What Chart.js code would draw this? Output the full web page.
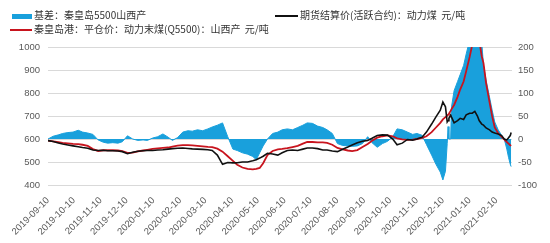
<!DOCTYPE html>
<html lang="zh">
<head>
    <meta charset="UTF-8">
    <title>基差 秦皇岛5500山西产</title>
    <script src="https://cdn.jsdelivr.net/npm/chart.js"></script>
    <style>
        * {
            padding: 0;
            margin: 0;
        }
        body {
            background: #ffffff;
            width: 550px;
            height: 243px;
            overflow: hidden;
            font-family: 'Noto Sans CJK SC', sans-serif;
        }
        .wrap {
            position: relative;
            width: 550px;
            height: 243px;
        }
        .legend-item {
            position: absolute;
            font-size: 10px;
            color: #333;
            white-space: nowrap;
            line-height: 12px;
        }
        .legend-item i {
            display: inline-block;
            vertical-align: middle;
            margin-right: 2px;
        }
    </style>
</head>
<body>
<div class="wrap">
    <canvas id="myChart" width="550" height="243"></canvas>
    <div class="legend-item" style="left:12px; top:9px;"><i style="width:20px;height:5px;background:#19a0dc;"></i>基差：秦皇岛5500山西产</div>
    <div class="legend-item" style="left:275px; top:9px;"><i style="width:23px;height:2px;background:#111;"></i>期货结算价(活跃合约)：动力煤&nbsp;&nbsp;元/吨</div>
    <div class="legend-item" style="left:10px; top:23px;"><i style="width:22px;height:2px;background:#c8141e;"></i>秦皇岛港：平仓价：动力末煤(Q5500)：山西产&nbsp;&nbsp;元/吨</div>
</div>
<script>
    // trading dates
    const dates = [
        '2019-09-10','2019-09-16','2019-09-22','2019-09-27','2019-10-03','2019-10-09','2019-10-15','2019-10-20','2019-10-26','2019-11-01',
        '2019-11-07','2019-11-13','2019-11-18','2019-11-24','2019-11-30','2019-12-05','2019-12-11','2019-12-17','2019-12-23','2019-12-29',
        '2020-01-03','2020-01-09','2020-01-15','2020-01-21','2020-01-27','2020-02-01','2020-02-07','2020-02-13','2020-02-19','2020-02-24',
        '2020-03-01','2020-03-07','2020-03-13','2020-03-18','2020-03-24','2020-03-30','2020-04-05','2020-04-11','2020-04-16','2020-04-22',
        '2020-04-28','2020-05-04','2020-05-08','2020-05-12','2020-05-16','2020-05-21','2020-05-27','2020-06-02','2020-06-07','2020-06-13',
        '2020-06-19','2020-06-25','2020-07-01','2020-07-06','2020-07-12','2020-07-18','2020-07-24','2020-07-29','2020-08-04','2020-08-10',
        '2020-08-16','2020-08-22','2020-08-27','2020-09-02','2020-09-08','2020-09-14','2020-09-19','2020-09-25','2020-10-01','2020-10-07',
        '2020-10-13','2020-10-18','2020-10-24','2020-10-30','2020-11-05','2020-11-10','2020-11-16','2020-11-21','2020-11-27','2020-12-02',
        '2020-12-07','2020-12-10','2020-12-13','2020-12-15','2020-12-16','2020-12-17','2020-12-19','2020-12-20','2020-12-23','2020-12-27',
        '2020-12-30','2021-01-03','2021-01-06','2021-01-10','2021-01-13','2021-01-16','2021-01-19','2021-01-21','2021-01-24','2021-01-26',
        '2021-01-29','2021-02-02','2021-02-05','2021-02-08','2021-02-12','2021-02-16','2021-02-19','2021-02-22','2021-02-24','2021-02-26',
        '2021-02-27'
    ];

    // 秦皇岛港平仓价 动力末煤 Q5500 山西产 (元/吨)
    const spotPrice = [
        593, 590, 586, 583, 581, 579, 578, 575, 570, 556,
        548, 551, 551, 551, 550, 547, 540, 541, 546, 550,
        553, 557, 559, 561, 563, 567, 571, 573, 573, 572,
        570, 568, 566, 565, 558, 545, 525, 505, 488, 476,
        470, 468, 470, 474, 495, 530, 548, 555, 557, 560,
        565, 570, 580, 587, 587, 585, 585, 583, 575, 561,
        555, 550, 547, 552, 565, 578, 592, 606, 612, 616,
        612, 603, 598, 596, 597, 600, 605, 612, 630, 650,
        670, 685, 695, 702, 706, 710, 722, 730, 748, 783,
        815, 850, 895, 957, 1010, 1060, 1060, 1030, 960, 930,
        843, 760, 700, 650, 625, 609, 598, 587, 580, 573,
        570
    ];

    // 期货结算价 (活跃合约) 动力煤 (元/吨)
    const futuresPrice = [
        593, 589, 583, 578, 574, 570, 566, 563, 560, 552,
        550, 551, 549, 549, 548, 545, 536, 542, 547, 549,
        550, 550, 552, 553, 556, 558, 560, 561, 559, 557,
        556, 555, 553, 550, 530, 490, 498, 496, 497, 500,
        500, 505, 510, 517, 525, 538, 535, 530, 540, 550,
        552, 550, 556, 561, 561, 558, 552, 552, 548, 545,
        555, 565, 574, 584, 590, 594, 603, 615, 618, 617,
        600, 575, 582, 598, 595, 600, 608, 630, 665, 696,
        725, 761, 740, 674, 680, 690, 704, 695, 670, 680,
        690, 685, 705, 712, 712, 720, 700, 680, 665, 660,
        648, 640, 630, 626, 622, 615, 600, 596, 605, 615,
        628
    ];

    // 基差 (right axis)
    const basis = [
        0, 6, 9, 12, 14, 15, 19, 15, 13, 10,
        -2, -7, -9, -8, -9, -6, 7, 0, -3, -2,
        -3, 2, 5, 11, 4, -3, 3, 15, 18, 17,
        20, 18, 22, 26, 30, 35, 5, -22, -25, -30,
        -33, -38, -45, -30, -15, 0, 12, 15, 20, 22,
        20, 25, 30, 35, 34, 28, 25, 20, 12, -10,
        -14, -15, -16, -15, -10, 5, -8, -18, -10, -5,
        5, 22, 20, 15, 10, 12, 8, -12, -35, -55,
        -72, -89, -70, -10, 27, 0, 0, 70, 105, 125,
        140, 160, 185, 215, 240, 250, 250, 245, 210, 160,
        128, 91, 63, 37, 20, 8, 0, -22, -40, -55,
        -60
    ];

    const tickLabels = [
        '2019-09-10','2019-10-10','2019-11-10','2019-12-10','2020-01-10','2020-02-10',
        '2020-03-10','2020-04-10','2020-05-10','2020-06-10','2020-07-10','2020-08-10',
        '2020-09-10','2020-10-10','2020-11-10','2020-12-10','2021-01-10','2021-02-10'
    ];
    const xEnd = '2021-02-28';

    function dayIndex(s) {
        const start = Date.UTC(2019, 8, 10);
        const p = s.split('-');
        return Math.round((Date.UTC(+p[0], +p[1] - 1, +p[2]) - start) / 86400000);
    }

    const xs = dates.map(dayIndex);
    const toPoints = arr => arr.map((v, i) => ({ x: xs[i], y: v }));
    const tickValues = tickLabels.map(dayIndex);

    const tickFont = { family: "'Liberation Sans', Arial, sans-serif", size: 9.5 };

    const ctx = document.getElementById('myChart').getContext('2d');
    const chart = new Chart(ctx, {
        type: 'line',
        data: {
            datasets: [
                {
                    label: '期货结算价(活跃合约)：动力煤 元/吨',
                    data: toPoints(futuresPrice),
                    borderColor: '#111111',
                    borderWidth: 1.6,
                    pointRadius: 0,
                    tension: 0,
                    yAxisID: 'y'
                },
                {
                    label: '秦皇岛港：平仓价：动力末煤(Q5500)：山西产 元/吨',
                    data: toPoints(spotPrice),
                    borderColor: '#c8141e',
                    borderWidth: 1.8,
                    pointRadius: 0,
                    tension: 0,
                    yAxisID: 'y'
                },
                {
                    label: '基差：秦皇岛5500山西产',
                    data: toPoints(basis),
                    borderColor: '#19a0dc',
                    backgroundColor: '#19a0dc',
                    borderWidth: 1,
                    pointRadius: 0,
                    tension: 0,
                    fill: 'origin',
                    yAxisID: 'y1'
                }
            ]
        },
        options: {
            responsive: false,
            animation: false,
            layout: { padding: { top: 47, left: 0, right: 0, bottom: 0 } },
            plugins: {
                legend: { display: false },
                tooltip: { enabled: false }
            },
            scales: {
                x: {
                    type: 'linear',
                    min: 0,
                    max: dayIndex(xEnd),
                    grid: { display: false },
                    border: { display: false },
                    afterBuildTicks: scale => {
                        scale.ticks = tickValues.map(v => ({ value: v }));
                    },
                    afterFit: scale => { scale.height = 58; },
                    ticks: {
                        autoSkip: false,
                        maxRotation: 45,
                        minRotation: 45,
                        padding: 2,
                        color: '#595959',
                        font: tickFont,
                        callback: (value, index) => tickLabels[index]
                    }
                },
                y: {
                    position: 'left',
                    min: 400,
                    max: 1000,
                    afterFit: scale => { scale.width = 48; },
                    grid: { color: '#d9d9d9', drawTicks: false },
                    border: { display: false },
                    ticks: {
                        stepSize: 100,
                        padding: 8,
                        color: '#595959',
                        font: tickFont,
                        callback: value => String(value)
                    }
                },
                y1: {
                    position: 'right',
                    min: -100,
                    max: 200,
                    afterFit: scale => { scale.width = 38; },
                    grid: { display: false, drawTicks: false },
                    border: { display: false },
                    ticks: {
                        stepSize: 50,
                        padding: 6,
                        color: '#595959',
                        font: tickFont,
                        callback: value => String(value)
                    }
                }
            }
        }
    });
</script>
</body>
</html>
